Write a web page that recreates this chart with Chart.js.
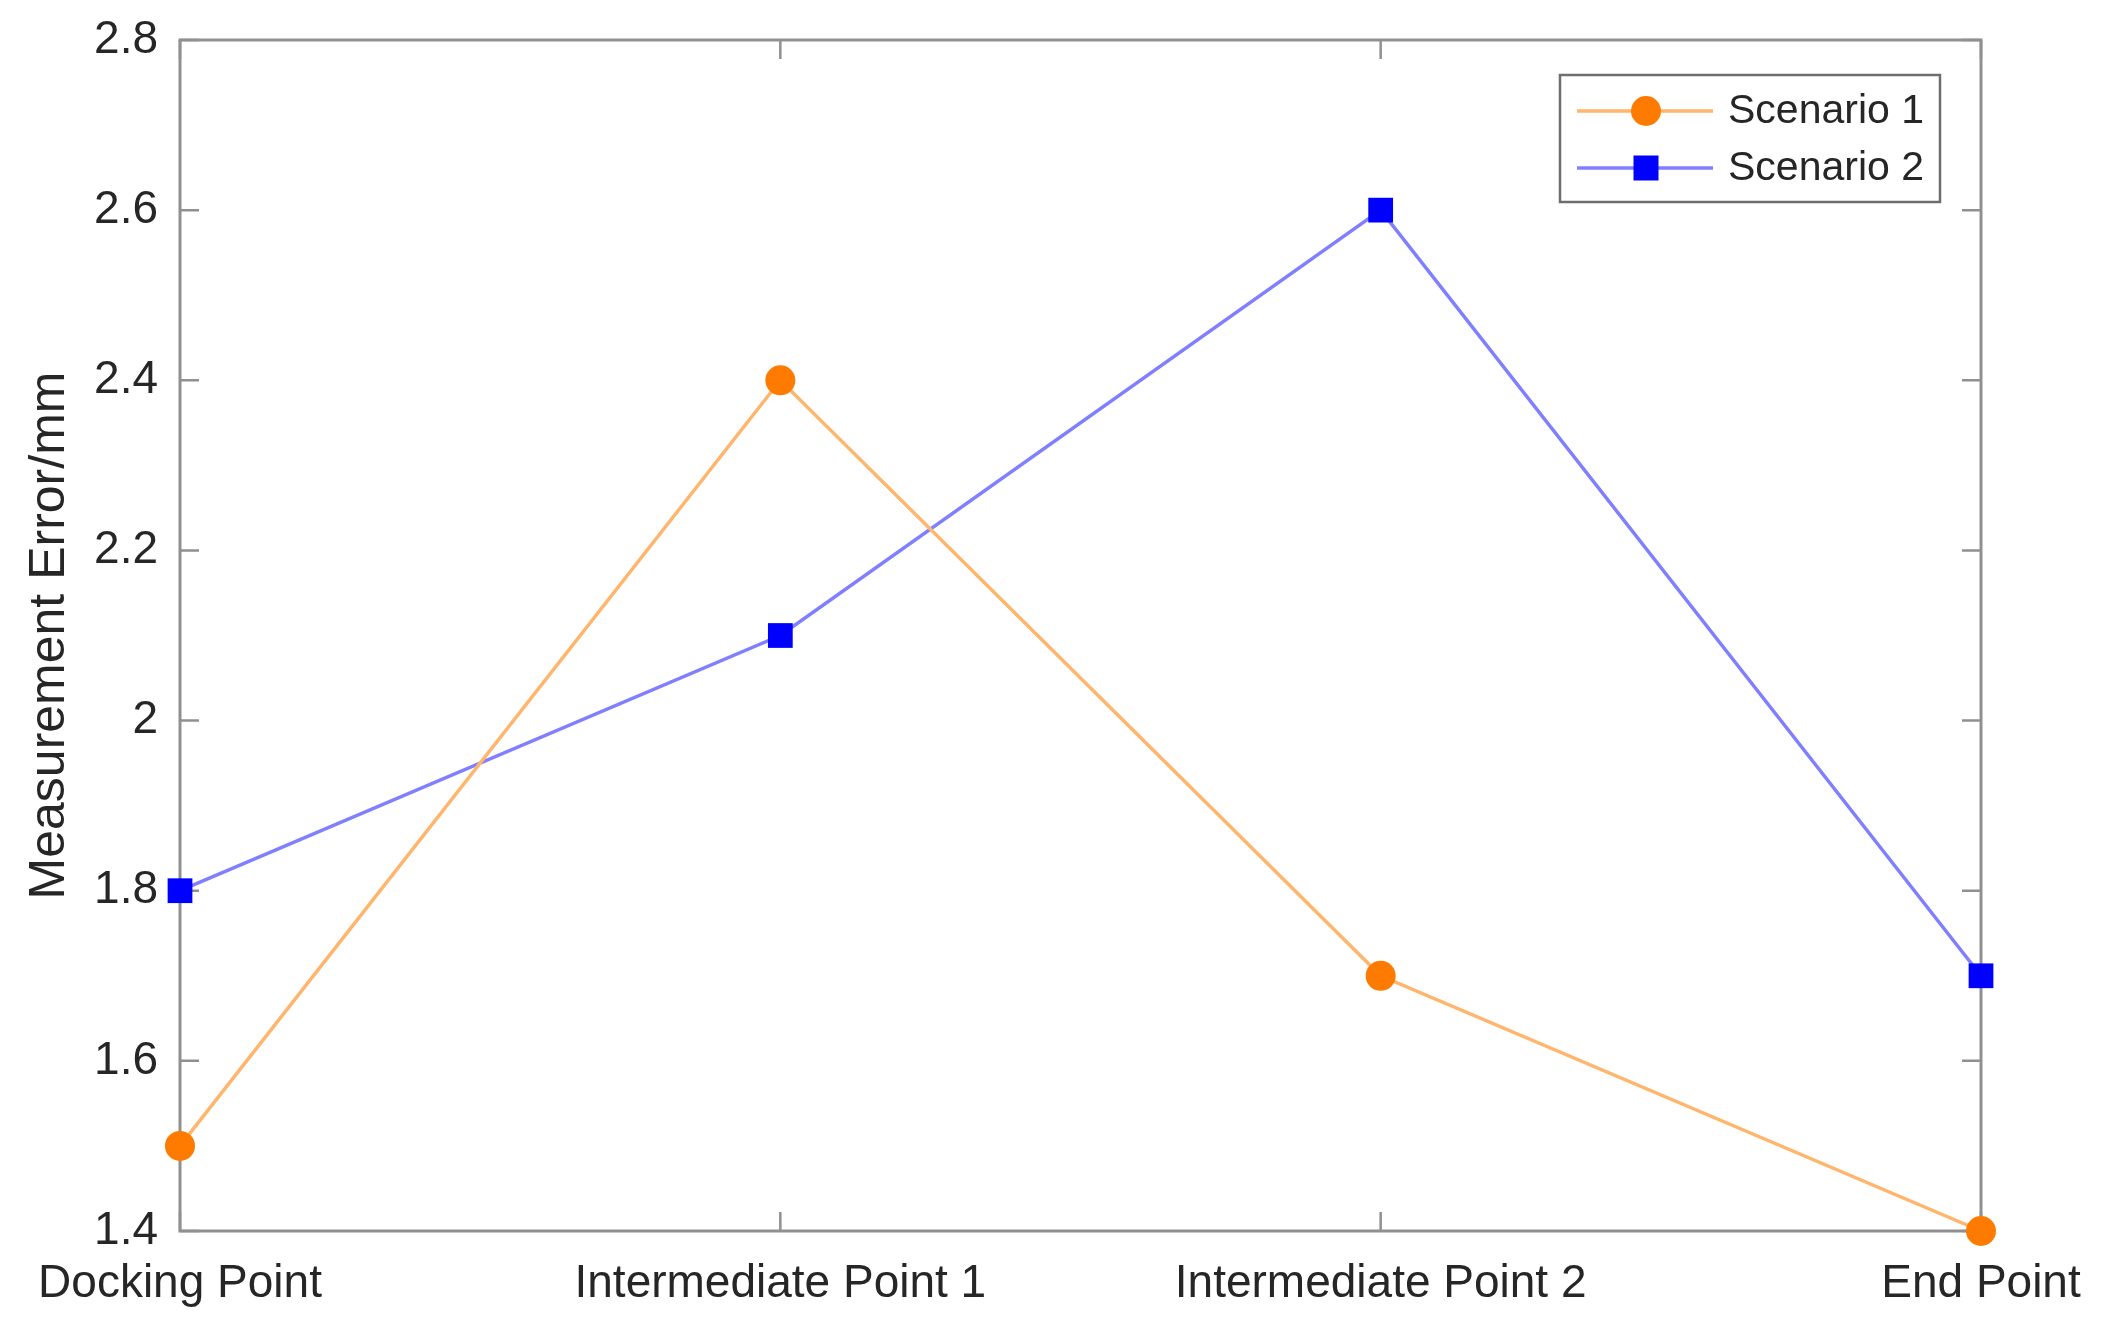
<!DOCTYPE html>
<html>
<head>
<meta charset="utf-8">
<script src="https://cdn.jsdelivr.net/npm/chart.js@4.4.0/dist/chart.umd.min.js"></script>
<style>
  html, body { margin: 0; padding: 0; background: #fff; }
  canvas { display: block; }
</style>
</head>
<body>
<canvas id="chart" width="2103" height="1329"></canvas>
<script>
const categories = ['Docking Point', 'Intermediate Point 1', 'Intermediate Point 2', 'End Point'];
const scenario1 = [1.5, 2.4, 1.7, 1.4];
const scenario2 = [1.8, 2.1, 2.6, 1.7];
const seriesNames = ['Scenario 1', 'Scenario 2'];
const yTicks = [1.4, 1.6, 1.8, 2.0, 2.2, 2.4, 2.6, 2.8];

const FONT = '"Liberation Sans", Arial, sans-serif';
const TEXT = '#262626';
const AXIS = '#909090';

// matlab-ish box with inward ticks
const boxPlugin = {
  id: 'box',
  beforeDatasetsDraw(chart) {
    const { ctx, chartArea: a, scales: { x, y } } = chart;
    ctx.save();
    ctx.strokeStyle = AXIS;
    ctx.lineWidth = 3;
    ctx.strokeRect(a.left, a.top, a.right - a.left, a.bottom - a.top);
    ctx.lineWidth = 2.5;
    ctx.beginPath();
    y.ticks.forEach(t => {
      const py = y.getPixelForValue(t.value);
      ctx.moveTo(a.left, py); ctx.lineTo(a.left + 19, py);
      ctx.moveTo(a.right, py); ctx.lineTo(a.right - 19, py);
    });
    categories.forEach((c, i) => {
      const px = x.getPixelForValue(i);
      ctx.moveTo(px, a.bottom); ctx.lineTo(px, a.bottom - 19);
      ctx.moveTo(px, a.top); ctx.lineTo(px, a.top + 19);
    });
    ctx.stroke();
    ctx.restore();
  }
};

const legendPlugin = {
  id: 'boxLegend',
  afterDraw(chart) {
    const { ctx } = chart;
    const x0 = 1560, y0 = 75, w = 380, h = 127;
    ctx.save();
    ctx.fillStyle = '#fff';
    ctx.fillRect(x0, y0, w, h);
    ctx.strokeStyle = '#6e6e6e';
    ctx.lineWidth = 2.5;
    ctx.strokeRect(x0, y0, w, h);
    chart.data.datasets.forEach((ds, i) => {
      const ly = y0 + 36 + i * 57;
      ctx.strokeStyle = ds.borderColor;
      ctx.lineWidth = 3.5;
      ctx.beginPath();
      ctx.moveTo(x0 + 17, ly); ctx.lineTo(x0 + 153, ly);
      ctx.stroke();
      ctx.fillStyle = ds.pointBackgroundColor;
      if (ds.pointStyle === 'rect') {
        ctx.fillRect(x0 + 86 - 12.5, ly - 12.5, 25, 25);
      } else {
        ctx.beginPath();
        ctx.arc(x0 + 86, ly, 15, 0, Math.PI * 2);
        ctx.fill();
      }
      ctx.fillStyle = TEXT;
      ctx.font = '41px ' + FONT;
      ctx.textBaseline = 'middle';
      ctx.fillText(ds.label, x0 + 168, ly + 1);
    });
    ctx.restore();
  }
};

new Chart(document.getElementById('chart'), {
  type: 'line',
  data: {
    labels: categories,
    datasets: [
      {
        label: seriesNames[0],
        data: scenario1,
        borderColor: '#ffb56b',
        borderWidth: 3.5,
        pointStyle: 'circle',
        pointRadius: 15,
        pointBackgroundColor: '#ff7b00',
        pointBorderWidth: 0,
        clip: false
      },
      {
        label: seriesNames[1],
        data: scenario2,
        borderColor: '#7f7fff',
        borderWidth: 3.5,
        pointStyle: 'rect',
        pointRadius: 17.5,
        pointBackgroundColor: '#0000ff',
        pointBorderWidth: 0,
        clip: false
      }
    ]
  },
  options: {
    responsive: false,
    animation: false,
    events: [],
    layout: { padding: { left: 0, top: 40, right: 122, bottom: 0 } },
    plugins: { legend: { display: false }, tooltip: { enabled: false } },
    scales: {
      x: {
        offset: false,
        grid: { display: false, drawTicks: false },
        border: { display: false },
        ticks: { color: TEXT, font: { family: FONT, size: 46 }, padding: 26, maxRotation: 0, autoSkip: false },
        afterFit: s => { s.height = 98; s.paddingLeft = 0; s.paddingRight = 0; }
      },
      y: {
        min: 1.4,
        max: 2.8,
        grid: { display: false, drawTicks: false },
        border: { display: false },
        afterBuildTicks: s => { s.ticks = yTicks.map(v => ({ value: v })); },
        ticks: { color: TEXT, font: { family: FONT, size: 46 }, padding: 22, callback: v => String(+v.toFixed(1)) },
        title: { display: true, text: 'Measurement Error/mm', color: TEXT, font: { family: FONT, size: 50 }, padding: { top: 20, bottom: 0 } },
        afterFit: s => { s.width = 180; s.paddingTop = 0; s.paddingBottom = 0; }
      }
    }
  },
  plugins: [boxPlugin, legendPlugin]
});
</script>
</body>
</html>
